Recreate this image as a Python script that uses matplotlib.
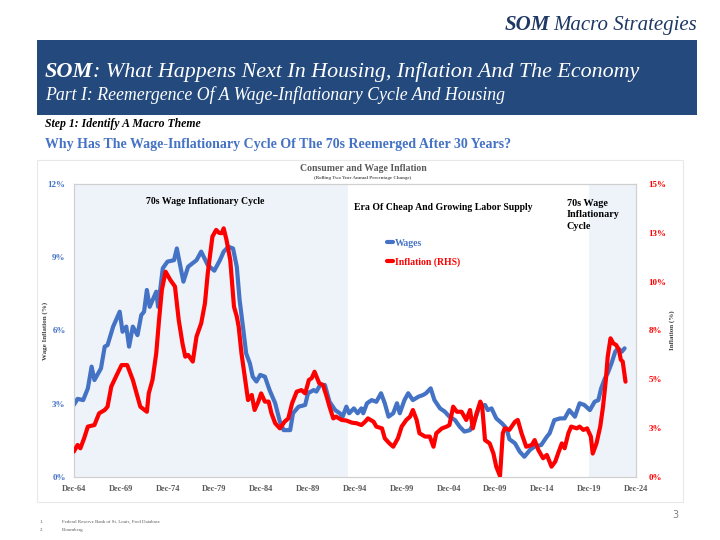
import matplotlib
matplotlib.use("Agg")
import matplotlib.pyplot as plt
import matplotlib.patches as patches
from matplotlib.lines import Line2D

# rolling two year annual % change (decimal years)
wage_t = [1964.9, 1965.3, 1965.9, 1966.4, 1966.8, 1967.1, 1967.8, 1968.2, 1968.5, 1969.1,
          1969.8, 1970.1, 1970.5, 1970.8, 1971.2, 1971.7, 1972.1, 1972.4, 1972.7, 1973.0,
          1973.7, 1973.9, 1974.4, 1974.9, 1975.6, 1975.9, 1976.6, 1977.1, 1978.0, 1978.5,
          1979.2, 1979.9, 1980.5, 1980.9, 1981.4, 1981.9, 1982.3, 1982.6, 1983.0, 1983.3,
          1983.7, 1984.0, 1984.4, 1984.8, 1985.3, 1985.8, 1986.4, 1986.9, 1987.3, 1988.0,
          1988.3, 1988.9, 1989.6, 1989.9, 1990.5, 1990.8, 1991.2, 1991.7, 1992.2, 1992.8,
          1993.3, 1993.6, 1994.0, 1994.3, 1994.8, 1995.2, 1995.6, 1995.8, 1996.2, 1996.7,
          1997.2, 1997.7, 1998.1, 1998.5, 1999.0, 1999.4, 1999.7, 2000.2, 2000.6, 2001.1,
          2001.7, 2002.2, 2002.5, 2003.0, 2003.4, 2004.0, 2004.5, 2005.0, 2005.6, 2006.1,
          2006.6, 2007.2, 2007.7, 2008.2, 2008.8, 2009.1, 2009.5, 2010.0, 2010.6, 2011.1,
          2011.4, 2012.0, 2012.5, 2013.0, 2013.6, 2014.1, 2014.8, 2015.4, 2015.7, 2016.2,
          2016.8, 2017.3, 2017.8, 2018.4, 2018.9, 2019.4, 2020.0, 2020.5, 2020.9, 2021.2,
          2021.6, 2021.9, 2022.3, 2022.7, 2023.0, 2023.4, 2023.7]
wage_v = [2.95, 3.2, 3.15, 3.63, 4.52, 3.97, 4.45, 5.34, 5.4, 6.16,
          6.77, 5.95, 6.16, 5.34, 6.16, 5.81, 6.63, 6.77, 7.66, 6.97,
          7.59, 6.97, 8.55, 8.82, 8.88, 9.36, 8.0, 8.61, 8.88, 9.23,
          8.68, 8.45, 8.88, 9.23, 9.43, 9.36, 8.61, 7.25, 6.02, 5.06,
          4.65, 4.11, 3.91, 4.18, 4.11, 3.56, 3.02, 2.27, 1.92, 1.92,
          2.61, 2.88, 2.95, 3.43, 3.56, 3.5, 3.77, 3.77, 3.08, 2.74,
          2.61, 2.47, 2.88, 2.61, 2.81, 2.61, 2.81, 2.61, 3.02, 3.15,
          3.08, 3.43, 3.02, 2.47, 2.61, 3.02, 2.61, 3.15, 3.43, 3.15,
          3.29, 3.36, 3.43, 3.63, 3.15, 2.81, 2.68, 2.47, 2.33, 2.06,
          1.86, 1.92, 2.33, 2.88, 2.95, 2.74, 2.81, 2.40, 2.2, 1.99,
          1.55, 1.38, 1.04, 0.83, 1.11, 1.25, 1.31, 1.65, 1.79, 2.33,
          2.40, 2.4, 2.74, 2.47, 3.02, 2.95, 2.74, 3.08, 3.15, 3.63,
          4.04, 4.25, 4.65, 5.13, 5.27, 5.13, 5.27]

infl_t = [1964.9, 1965.3, 1965.6, 1966.0, 1966.4, 1967.1, 1967.6, 1968.2, 1968.5, 1968.9,
          1969.4, 1970.0, 1970.6, 1971.2, 1971.5, 1972.0, 1972.7, 1972.9, 1973.3, 1973.7,
          1974.0, 1974.3, 1974.7, 1975.2, 1975.7, 1976.1, 1976.5, 1976.8, 1977.1, 1977.6,
          1978.0, 1978.5, 1978.9, 1979.2, 1979.7, 1980.1, 1980.4, 1980.7, 1980.9, 1981.2,
          1981.6, 1982.0, 1982.3, 1982.5, 1982.8, 1983.2, 1983.5, 1983.9, 1984.2, 1984.6,
          1984.9, 1985.3, 1985.7, 1986.0, 1986.4, 1986.9, 1987.4, 1987.8, 1988.2, 1988.7,
          1989.2, 1989.6, 1990.0, 1990.3, 1990.6, 1991.1, 1991.5, 1991.9, 1992.2, 1992.6,
          1992.9, 1993.5, 1994.0, 1994.6, 1995.1, 1995.6, 1996.0, 1996.3, 1996.9, 1997.2,
          1997.8, 1998.1, 1998.6, 1999.0, 1999.5, 1999.9, 2000.4, 2000.8, 2001.1, 2001.5,
          2001.8, 2002.4, 2002.9, 2003.3, 2003.6, 2004.2, 2004.7, 2005.0, 2005.4, 2005.8,
          2006.3, 2006.8, 2007.2, 2007.5, 2007.9, 2008.3, 2008.5, 2008.8, 2009.3, 2009.7,
          2010.0, 2010.4, 2010.7, 2010.9, 2011.4, 2012.0, 2012.3, 2012.7, 2013.2, 2013.8,
          2014.1, 2014.5, 2015.0, 2015.4, 2015.9, 2016.3, 2016.6, 2017.0, 2017.3, 2017.7,
          2018.0, 2018.6, 2018.9, 2019.3, 2019.7, 2020.1, 2020.3, 2020.7, 2021.1, 2021.4,
          2021.7, 2021.9, 2022.2, 2022.5, 2022.8, 2023.1, 2023.3, 2023.5, 2023.8]
infl_v = [1.30, 1.64, 1.47, 1.98, 2.58, 2.66, 3.26, 3.43, 3.60, 4.63,
          5.14, 5.73, 5.73, 4.97, 4.45, 3.60, 3.34, 4.28, 4.97, 6.33,
          8.04, 9.58, 10.51, 10.09, 9.75, 8.04, 6.84, 6.16, 6.25, 5.91,
          7.19, 7.87, 8.89, 10.43, 12.31, 12.65, 12.5, 12.48, 12.73, 12.14,
          11.11, 8.72, 8.21, 7.70, 6.33, 4.97, 3.94, 4.2, 3.43, 3.86,
          4.28, 3.86, 3.86, 3.26, 2.75, 2.49, 2.83, 3.0, 3.77, 4.37,
          4.45, 4.28, 4.97, 5.06, 5.39, 4.80, 4.71, 4.11, 3.60, 3.0,
          3.09, 2.92, 2.89, 2.78, 2.75, 2.66, 2.83, 3.0, 2.83, 2.58,
          2.49, 1.98, 1.72, 1.55, 1.98, 2.58, 2.92, 3.09, 3.43, 2.92,
          2.24, 2.07, 2.07, 1.55, 2.24, 2.49, 2.58, 2.66, 3.60, 3.34,
          3.34, 2.92, 3.43, 2.49, 3.26, 3.86, 3.60, 1.89, 1.72, 1.2,
          0.53, 0.05, 2.24, 2.49, 2.41, 2.83, 2.92, 2.24, 1.55, 1.64,
          1.89, 1.38, 0.96, 1.13, 0.53, 0.79, 1.2, 1.72, 1.47, 2.24,
          2.58, 2.49, 2.58, 2.41, 2.49, 2.07, 1.2, 1.72, 2.58, 3.60,
          4.97, 6.16, 7.10, 6.84, 6.76, 6.5, 6.0, 5.91, 4.88]

x_ticks = [1964.92 + 5 * i for i in range(13)]
x_labels = ["Dec-64", "Dec-69", "Dec-74", "Dec-79", "Dec-84", "Dec-89", "Dec-94",
            "Dec-99", "Dec-04", "Dec-09", "Dec-14", "Dec-19", "Dec-24"]
left_ticks = [0, 3, 6, 9, 12]
left_labels = ["0%", "3%", "6%", "9%", "12%"]
right_ticks = [0, 2.5, 5, 7.5, 10, 12.5, 15]
right_labels = ["0%", "3%", "5%", "8%", "10%", "13%", "15%"]
eras = [(1964.92, 1994.2), (2019.9, 2024.92)]

BLUE = "#4472C4"
RED = "#FF0000"
NAVY = "#1F3864"
SERIF = "Liberation Serif"

W, H = 720, 540


def fx(x):
    return x / W


def fy(y):
    return 1 - y / H


fig = plt.figure(figsize=(7.2, 5.4), dpi=100)
fig.patch.set_facecolor("white")
renderer = fig.canvas.get_renderer()

# header: "SOM Macro Strategies"
t = fig.text(fx(697), fy(30), "Macro Strategies", ha="right", va="baseline",
             family=SERIF, style="italic", fontsize=15, color=NAVY)
bb = t.get_window_extent(renderer)
fig.text(bb.x0 / W - 0.005, fy(30), "SOM", ha="right", va="baseline",
         family=SERIF, style="italic", weight="bold", fontsize=15, color=NAVY)

# banner
fig.patches.append(patches.Rectangle((fx(37), fy(115)), 660 / W, 75 / H,
                                     transform=fig.transFigure, facecolor="#244A7D",
                                     edgecolor="none"))
t = fig.text(fx(45), fy(77), "SOM", ha="left", va="baseline", family=SERIF,
             style="italic", weight="bold", fontsize=16, color="white")
bb = t.get_window_extent(renderer)
fig.text(bb.x1 / W, fy(77), ": What Happens Next In Housing, Inflation And The Economy",
         ha="left", va="baseline", family=SERIF, style="italic", fontsize=15.8, color="white")
fig.text(fx(45), fy(100), "Part I: Reemergence Of A Wage-Inflationary Cycle And Housing",
         ha="left", va="baseline", family=SERIF, style="italic", fontsize=12.8, color="white")

fig.text(fx(45), fy(127), "Step 1: Identify A Macro Theme", ha="left", va="baseline",
         family=SERIF, style="italic", weight="bold", fontsize=8.5, color="black")
fig.text(fx(45), fy(148), "Why Has The Wage-Inflationary Cycle Of The 70s Reemerged After 30 Years?",
         ha="left", va="baseline", family=SERIF, weight="bold", fontsize=10, color=BLUE)

# chart box
fig.patches.append(patches.Rectangle((fx(37), fy(502)), 646 / W, 342 / H,
                                     transform=fig.transFigure, fill=False,
                                     edgecolor="#E8E8E8", linewidth=0.8))
fig.text(fx(363), fy(171), "Consumer and Wage Inflation", ha="center", va="baseline",
         family=SERIF, weight="bold", fontsize=7, color="#595959")
fig.text(fx(363), fy(179), "(Rolling Two Year Annual Percentage Change)", ha="center",
         va="baseline", family=SERIF, weight="bold", fontsize=3.5, color="#595959")

ax = fig.add_axes([fx(74), fy(477), 562 / W, 293 / H])
for a, b in eras:
    ax.axvspan(a, b, color="#EEF3FA", zorder=0, linewidth=0)

ax2 = ax.twinx()
ax.plot(wage_t, wage_v, color=BLUE, linewidth=3, solid_capstyle="round", zorder=3)
ax2.plot(infl_t, infl_v, color=RED, linewidth=3, solid_capstyle="round", zorder=4)

ax.set_xlim(1964.92, 2024.92)
ax.set_ylim(0, 12)
ax2.set_ylim(0, 15)
ax.set_xticks(x_ticks)
ax.set_xticklabels(x_labels, family=SERIF, weight="bold", fontsize=6, color="#595959")
ax.set_yticks(left_ticks)
ax.set_yticklabels(left_labels, family=SERIF, weight="bold", fontsize=6.5, color=BLUE)
ax2.set_yticks(right_ticks)
ax2.set_yticklabels(right_labels, family=SERIF, weight="bold", fontsize=6.5, color=RED)
ax.tick_params(length=0, pad=6)
ax2.tick_params(length=0, pad=9)
for a in (ax, ax2):
    for s in a.spines.values():
        s.set_color("#D0D0D0")
        s.set_linewidth(0.8)

ax.set_ylabel("Wage Inflation (%)", family=SERIF, weight="bold", fontsize=5,
              color="#404040", labelpad=0)
ax2.set_ylabel("Inflation (%)", family=SERIF, weight="bold", fontsize=5,
               color="#404040", rotation=90, labelpad=2)

ax.text(0.233, 0.94, "70s Wage Inflationary Cycle", transform=ax.transAxes, ha="center",
        va="center", family=SERIF, weight="bold", fontsize=7, color="black")
ax.text(0.498, 0.921, "Era Of Cheap And Growing Labor Supply", transform=ax.transAxes,
        ha="left", va="center", family=SERIF, weight="bold", fontsize=7, color="black")
ax.text(0.877, 0.95, "70s Wage\nInflationary\nCycle", transform=ax.transAxes, ha="left",
        va="top", family=SERIF, weight="bold", fontsize=7.3, color="black", linespacing=1.35)

handles = [Line2D([], [], color=BLUE, linewidth=3, solid_capstyle="round"),
           Line2D([], [], color=RED, linewidth=3, solid_capstyle="round")]
leg = ax2.legend(handles, ["Wages", "Inflation (RHS)"], loc="upper left",
                 bbox_to_anchor=(0.548, 0.83), frameon=False, handlelength=0.6,
                 handletextpad=0.2, labelspacing=0.95, borderpad=0,
                 prop={"family": SERIF, "weight": "bold", "size": 7})
for txt, c in zip(leg.get_texts(), [BLUE, RED]):
    txt.set_color(c)

# footnotes and page number
fig.text(fx(40), fy(523), "1.", family=SERIF, fontsize=3.5, color="#595959")
fig.text(fx(62), fy(523), "Federal Reserve Bank of St. Louis, Fred Database", family=SERIF,
         fontsize=3.5, color="#595959")
fig.text(fx(40), fy(531), "2.", family=SERIF, fontsize=3.5, color="#595959")
fig.text(fx(62), fy(531), "Bloomberg", family=SERIF, fontsize=3.5, color="#595959")
fig.text(fx(672), fy(518), "3", family="DejaVu Sans", fontsize=7, color="#7F7F7F")

fig.savefig("out.png", dpi=100)
